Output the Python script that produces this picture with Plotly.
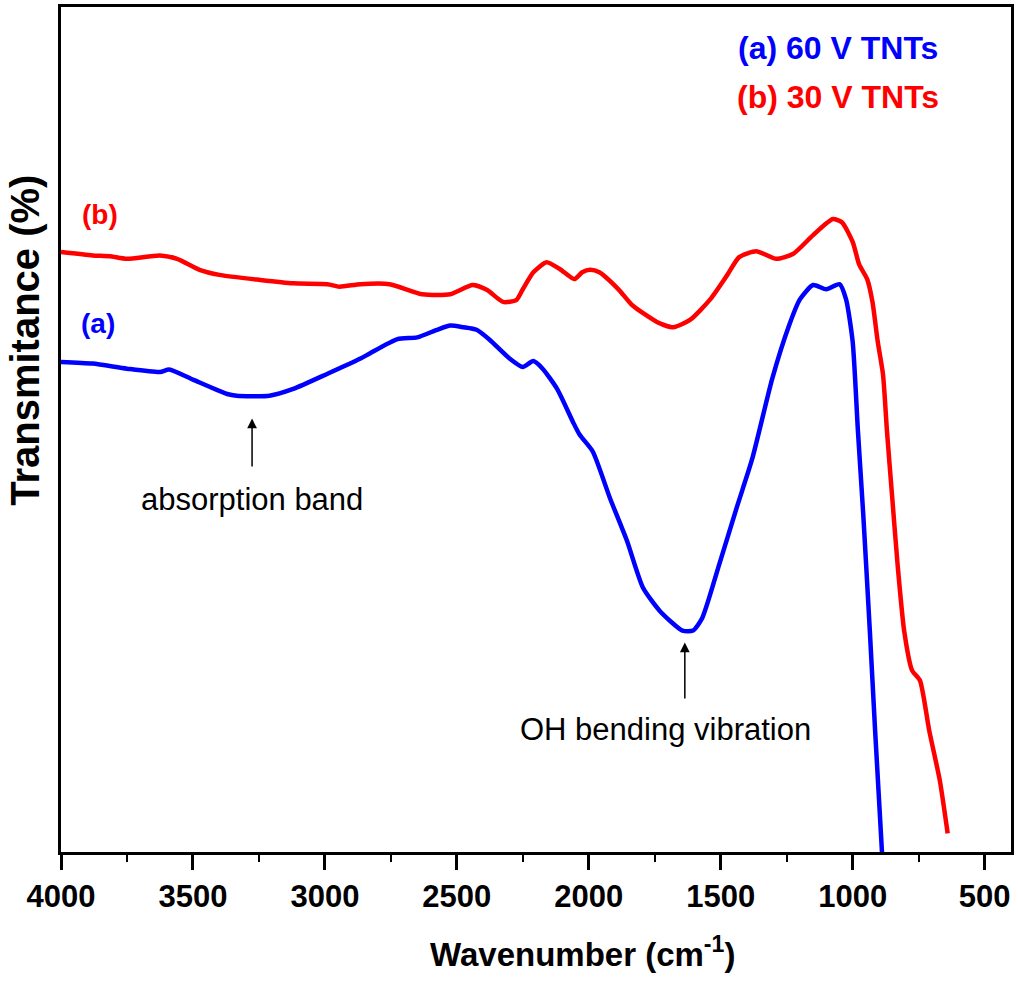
import plotly.graph_objects as go

# FTIR spectra, wavenumber (cm-1) vs transmittance (arbitrary units)
wn_a = [4000, 3880, 3750, 3625, 3590, 3500, 3370, 3335, 3210, 3120, 2990, 2865,
        2830, 2725, 2650, 2575, 2525, 2475, 2425, 2375, 2300, 2250, 2210, 2175,
        2120, 2060, 2035, 1985, 1920, 1855, 1795, 1730, 1645, 1605, 1570, 1505,
        1440, 1380, 1305, 1240, 1200, 1150, 1100, 1050, 1025, 1000, 980, 960,
        935, 915, 888]
tr_a = [58.0, 57.8, 57.2, 56.8, 57.1, 55.9, 54.2, 54.0, 54.0, 54.8, 56.6, 58.4,
        59.0, 60.7, 60.9, 61.8, 62.3, 62.1, 61.8, 60.6, 58.4, 57.4, 58.1, 57.2,
        54.8, 50.9, 49.4, 47.4, 41.9, 36.8, 31.3, 28.5, 26.2, 26.2, 27.7, 34.1,
        40.7, 46.6, 56.0, 62.4, 65.4, 67.1, 66.6, 67.2, 65.4, 60.4, 49.8, 40.0,
        26.2, 14.4, -0.5]

wn_b = [4000, 3880, 3815, 3750, 3625, 3560, 3475, 3400, 3245, 3120, 2990, 2945,
        2865, 2755, 2630, 2525, 2440, 2385, 2325, 2275, 2250, 2210, 2160, 2110,
        2055, 2025, 1995, 1960, 1885, 1835, 1740, 1680, 1615, 1540, 1475, 1430,
        1365, 1290, 1225, 1150, 1075, 1040, 1000, 975, 945, 925, 905, 885, 870,
        850, 830, 805, 775, 745, 710, 670, 640]
tr_b = [71.0, 70.6, 70.5, 70.2, 70.6, 70.2, 68.9, 68.3, 67.7, 67.3, 67.2, 66.9,
        67.2, 67.2, 66.0, 66.0, 67.1, 66.5, 65.1, 65.3, 66.6, 68.6, 69.8, 69.0,
        67.8, 68.6, 68.9, 68.6, 66.5, 64.7, 62.7, 62.1, 63.0, 65.4, 68.3, 70.4,
        71.1, 70.2, 70.8, 73.0, 74.9, 74.5, 72.2, 69.5, 67.8, 65.1, 60.4, 56.5,
        49.8, 41.9, 34.1, 26.2, 21.5, 20.3, 14.4, 8.5, 2.2]

x_ticks = [4000, 3500, 3000, 2500, 2000, 1500, 1000, 500]

FONT = "Liberation Sans, Arial, sans-serif"

fig = go.Figure()
fig.add_trace(go.Scatter(x=wn_a, y=tr_a, mode="lines",
                         line=dict(color="#0000FF", width=4.5, shape="spline", smoothing=0.6)))
fig.add_trace(go.Scatter(x=wn_b, y=tr_b, mode="lines",
                         line=dict(color="#FF0000", width=4.5, shape="spline", smoothing=0.6)))

annotations = [
    # legend-like labels
    dict(xref="paper", yref="paper", x=0.818, y=0.951, showarrow=False,
         xanchor="center", yanchor="middle",
         text="<b>(a) 60 V TNTs</b>", font=dict(family=FONT, size=32, color="#0000FF")),
    dict(xref="paper", yref="paper", x=0.818, y=0.893, showarrow=False,
         xanchor="center", yanchor="middle",
         text="<b>(b) 30 V TNTs</b>", font=dict(family=FONT, size=32, color="#FF0000")),
    # curve labels
    dict(xref="paper", yref="paper", x=0.041, y=0.754, showarrow=False,
         xanchor="center", yanchor="middle",
         text="<b>(b)</b>", font=dict(family=FONT, size=28, color="#FF0000")),
    dict(xref="paper", yref="paper", x=0.039, y=0.626, showarrow=False,
         xanchor="center", yanchor="middle",
         text="<b>(a)</b>", font=dict(family=FONT, size=28, color="#0000FF")),
    # band annotations with arrows
    dict(x=3276, y=51.3, xref="x", yref="y", text="absorption band",
         font=dict(family=FONT, size=31, color="black"),
         showarrow=True, arrowhead=2, arrowsize=1.3, arrowwidth=1.5, arrowcolor="black",
         ax=0, ay=81, startstandoff=14),
    dict(x=1636, y=24.8, xref="x", yref="y", text="OH bending vibration",
         font=dict(family=FONT, size=31, color="black"), width=330, align="left",
         showarrow=True, arrowhead=2, arrowsize=1.3, arrowwidth=1.5, arrowcolor="black",
         ax=0, ay=87, startstandoff=12),
    # axis titles
    dict(xref="paper", yref="paper", x=0.549, y=-0.118, showarrow=False,
         xanchor="center", yanchor="middle",
         text="<b>Wavenumber (cm<sup>-1</sup>)</b>",
         font=dict(family=FONT, size=33, color="black")),
    dict(xref="paper", yref="paper", x=-0.038, y=0.606, showarrow=False, textangle=-90,
         xanchor="center", yanchor="middle",
         text="<b>Transmitance (%)</b>", font=dict(family=FONT, size=40, color="black")),
]

fig.update_layout(
    width=1018, height=983,
    margin=dict(l=61, r=6, t=4, b=131),
    paper_bgcolor="white", plot_bgcolor="white",
    showlegend=False,
    annotations=annotations,
    xaxis=dict(range=[4000, 400], tickvals=x_ticks, ticks="outside", ticklen=15,
               tickwidth=3, tickcolor="black", showline=True, linecolor="black",
               linewidth=3, mirror=True, showgrid=False, zeroline=False,
               tickfont=dict(family=FONT, size=31, color="black", weight="bold"),
               minor=dict(dtick=250, tick0=0, ticks="outside", ticklen=7,
                          tickwidth=2, tickcolor="black", showgrid=False)),
    yaxis=dict(range=[0, 100], showticklabels=False, ticks="", showline=True,
               linecolor="black", linewidth=3, mirror=True, showgrid=False,
               zeroline=False),
)

fig.write_html("out.html", config={"displayModeBar": False},
               post_script="document.body.style.margin='0';")
